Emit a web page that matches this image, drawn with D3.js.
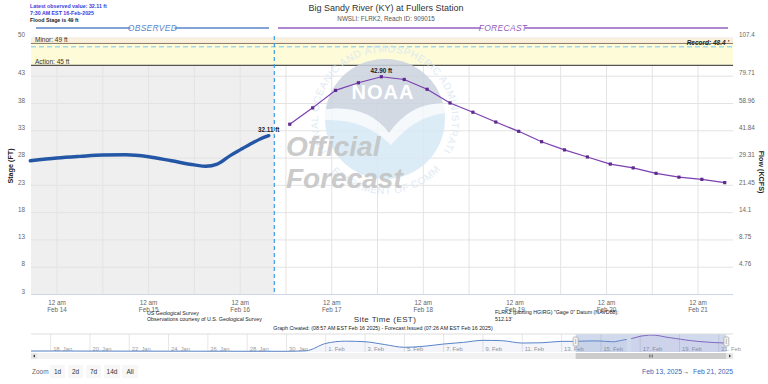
<!DOCTYPE html>
<html>
<head>
<meta charset="utf-8">
<script src="https://cdnjs.cloudflare.com/ajax/libs/d3/7.8.5/d3.min.js"></script>
<style>
  body { margin: 0; background: #fff; }
  svg { display: block; font-family: "Liberation Sans", Arial, sans-serif; }
</style>
</head>
<body>
<svg id="chart" width="768" height="384"></svg>
<script>
// Stage axis ticks and the matching flow labels (rating curve)
const stageTicks = [3, 8, 13, 18, 23, 28, 33, 38, 43, 50];
const flowLabels = ["", "4.76", "8.75", "14.1", "21.45", "29.31", "41.84", "58.96", "79.71", "107.4"];

// Observed stage (ft), EST
const obsTimes = ["2025-02-13 17:00", "2025-02-14 00:00", "2025-02-14 06:00", "2025-02-14 12:00",
  "2025-02-14 18:00", "2025-02-15 00:00", "2025-02-15 06:00", "2025-02-15 12:00", "2025-02-15 15:00",
  "2025-02-15 18:00", "2025-02-15 21:30", "2025-02-16 00:00", "2025-02-16 03:20", "2025-02-16 05:15",
  "2025-02-16 07:30"];
const obsStage = [27.5, 28.0, 28.3, 28.55, 28.6, 28.25, 27.5, 26.75, 26.5, 26.9, 28.5, 29.5, 30.8, 31.5, 32.11];

// Forecast stage (ft), EST
const fcstTimes = ["2025-02-16 13:00", "2025-02-16 19:00", "2025-02-17 01:00", "2025-02-17 07:00",
  "2025-02-17 13:00", "2025-02-17 19:00", "2025-02-18 01:00", "2025-02-18 07:00", "2025-02-18 13:00",
  "2025-02-18 19:00", "2025-02-19 01:00", "2025-02-19 07:00", "2025-02-19 13:00", "2025-02-19 19:00",
  "2025-02-20 01:00", "2025-02-20 07:00", "2025-02-20 13:00", "2025-02-20 19:00", "2025-02-21 01:00",
  "2025-02-21 07:00"];
const fcstStage = [34.2, 37.2, 40.4, 41.8, 42.9, 42.4, 40.6, 38.1, 36.4, 34.6, 32.9, 31.0, 29.5, 28.2,
  26.9, 26.2, 25.2, 24.5, 24.1, 23.5];

// Navigator history (daily stage, ft)
const histTimes = ["2025-01-17 00:00", "2025-01-18 00:00", "2025-01-19 00:00", "2025-01-20 00:00",
  "2025-01-21 00:00", "2025-01-22 00:00", "2025-01-23 00:00", "2025-01-24 00:00", "2025-01-25 00:00",
  "2025-01-26 00:00", "2025-01-27 00:00", "2025-01-28 00:00", "2025-01-29 00:00", "2025-01-30 00:00",
  "2025-01-31 00:00", "2025-02-01 00:00", "2025-02-02 00:00", "2025-02-03 00:00", "2025-02-04 00:00",
  "2025-02-05 00:00", "2025-02-06 00:00", "2025-02-07 00:00", "2025-02-08 00:00", "2025-02-09 00:00",
  "2025-02-10 00:00", "2025-02-11 00:00", "2025-02-12 00:00", "2025-02-13 00:00"];
const histStage = [3.9, 4.0, 3.9, 3.8, 3.7, 3.6, 3.6, 3.5, 3.5, 3.4, 3.4, 3.3, 3.3, 3.2,
  4.5, 22.5, 28.0, 26.6, 19.7, 13.0, 15.5, 21.0, 25.0, 30.0, 29.0, 23.4, 24.1, 27.5];

const navTicks = ["2025-01-18", "2025-01-20", "2025-01-22", "2025-01-24", "2025-01-26", "2025-01-28",
  "2025-01-30", "2025-02-01", "2025-02-03", "2025-02-05", "2025-02-07", "2025-02-09", "2025-02-11",
  "2025-02-13", "2025-02-15", "2025-02-17", "2025-02-19", "2025-02-21"];

const thresholds = { action: 45, minor: 49, record: 48.4 };

const parse = d3.timeParse("%Y-%m-%d %H:%M");
const parseDay = d3.timeParse("%Y-%m-%d");
const obs = obsTimes.map((t, i) => ({ t: parse(t), v: obsStage[i] }));
const fcst = fcstTimes.map((t, i) => ({ t: parse(t), v: fcstStage[i] }));
const hist = histTimes.map((t, i) => ({ t: parse(t), v: histStage[i] }));

const svg = d3.select("#chart");
const defs = svg.append("defs");
const plot = { left: 31, right: 733, top: 38, bottom: 294.5 };
const nowTime = parse("2025-02-16 08:57");

const x = d3.scaleTime()
  .domain([parse("2025-02-13 17:11"), parse("2025-02-21 09:10")])
  .range([plot.left, plot.right]);
const y = d3.scaleLinear().domain([3, 50]).range([plot.bottom, plot.top]);

// ---- header texts ----
svg.append("text").attr("x", 30).attr("y", 8).attr("font-size", 5.3).attr("font-weight", "bold")
  .attr("fill", "#3b3bdc").text("Latest observed value: 32.11 ft");
svg.append("text").attr("x", 30).attr("y", 15).attr("font-size", 5.3).attr("font-weight", "bold")
  .attr("fill", "#3b3bdc").text("7:30 AM EST 16-Feb-2025");
svg.append("text").attr("x", 30).attr("y", 22).attr("font-size", 5.3).attr("font-weight", "bold")
  .attr("fill", "#222").text("Flood Stage is 49 ft");

svg.append("text").attr("x", 386).attr("y", 10.5).attr("text-anchor", "middle")
  .attr("font-size", 9).attr("fill", "#333").text("Big Sandy River (KY) at Fullers Station");
svg.append("text").attr("x", 386).attr("y", 20.5).attr("text-anchor", "middle")
  .attr("font-size", 6.3).attr("fill", "#555").text("NWSLI: FLRK2, Reach ID: 909015");

// observed / forecast banner
function banner(x0, x1, label, color) {
  const mid = (x0 + x1) / 2, half = 22;
  svg.append("line").attr("x1", x0).attr("x2", mid - half).attr("y1", 28).attr("y2", 28)
    .attr("stroke", color).attr("stroke-width", 1.5);
  svg.append("line").attr("x1", mid + half).attr("x2", x1).attr("y1", 28).attr("y2", 28)
    .attr("stroke", color).attr("stroke-width", 1.5);
  svg.append("text").attr("x", mid).attr("y", 31).attr("text-anchor", "middle")
    .attr("font-size", 8.5).attr("font-style", "italic").attr("fill", color)
    .attr("letter-spacing", 0.3).text(label);
}
banner(36, 269, "OBSERVED", "#5b86c8");
banner(278, 728, "FORECAST", "#9460c0");

// ---- plot background ----
const g = svg.append("g");

// observed region shading
g.append("rect").attr("x", plot.left).attr("y", plot.top)
  .attr("width", x(nowTime) - plot.left).attr("height", plot.bottom - plot.top)
  .attr("fill", "#efefef");

// grid lines
const gridTimes = d3.timeHour.every(12).range(x.domain()[0], x.domain()[1]);
g.append("g").selectAll("line").data(gridTimes).join("line")
  .attr("x1", d => x(d)).attr("x2", d => x(d))
  .attr("y1", plot.top).attr("y2", plot.bottom)
  .attr("stroke", "#e3e3e3").attr("stroke-width", 1);
g.append("g").selectAll("line").data(stageTicks).join("line")
  .attr("x1", plot.left).attr("x2", plot.right)
  .attr("y1", d => y(d)).attr("y2", d => y(d))
  .attr("stroke", "#e3e3e3").attr("stroke-width", 1);

// flood category bands
g.append("rect").attr("x", plot.left).attr("width", plot.right - plot.left)
  .attr("y", y(50)).attr("height", y(thresholds.minor) - y(50)).attr("fill", "#fbf0dc");
g.append("rect").attr("x", plot.left).attr("width", plot.right - plot.left)
  .attr("y", y(thresholds.minor)).attr("height", y(thresholds.action) - y(thresholds.minor))
  .attr("fill", "#fdfbd8");
g.append("line").attr("x1", plot.left).attr("x2", plot.right)
  .attr("y1", y(thresholds.minor)).attr("y2", y(thresholds.minor))
  .attr("stroke", "#8a7a60").attr("stroke-width", 1);
g.append("line").attr("x1", plot.left).attr("x2", plot.right)
  .attr("y1", y(thresholds.record)).attr("y2", y(thresholds.record))
  .attr("stroke", "#9fd9ea").attr("stroke-width", 1.6).attr("stroke-dasharray", "5,3");
g.append("line").attr("x1", plot.left).attr("x2", plot.right)
  .attr("y1", y(thresholds.action)).attr("y2", y(thresholds.action))
  .attr("stroke", "#555").attr("stroke-width", 1.2);
g.append("text").attr("x", plot.left + 4).attr("y", y(thresholds.minor) - 1.5)
  .attr("font-size", 6.5).attr("fill", "#333").text("Minor: 49 ft");
g.append("text").attr("x", plot.left + 4).attr("y", y(thresholds.action) - 1.5)
  .attr("font-size", 6.5).attr("fill", "#333").text("Action: 45 ft");
g.append("text").attr("x", plot.right - 4).attr("y", y(thresholds.record) - 2)
  .attr("text-anchor", "end").attr("font-size", 6.5).attr("font-weight", "bold")
  .attr("font-style", "italic").attr("fill", "#222").text("Record: 48.4 '");

// ---- NOAA watermark ----
const logo = g.append("g").attr("opacity", 0.85);
const cx = 385, cy = 119;
defs.append("clipPath").attr("id", "disc")
  .append("circle").attr("cx", cx).attr("cy", cy).attr("r", 60);
logo.append("circle").attr("cx", cx).attr("cy", cy).attr("r", 60).attr("fill", "#d7e9f6");
const upper = logo.append("g").attr("clip-path", "url(#disc)");
upper.append("path")
  .attr("d", `M${cx - 70},${cy - 70} L${cx + 70},${cy - 70} L${cx + 70},${cy - 14}
    Q${cx + 30},${cy - 22} ${cx + 4},${cy + 14} Q${cx - 20},${cy - 18} ${cx - 70},${cy - 8} Z`)
  .attr("fill", "#cbd3df");
upper.append("path")
  .attr("d", `M${cx - 70},${cy - 8} Q${cx - 20},${cy - 18} ${cx + 4},${cy + 14}
    Q${cx + 30},${cy - 22} ${cx + 70},${cy - 14} L${cx + 70},${cy - 6}
    Q${cx + 34},${cy - 8} ${cx + 6},${cy + 26} Q${cx - 24},${cy - 4} ${cx - 70},${cy + 2} Z`)
  .attr("fill", "#f4f8fb");
logo.append("text").attr("x", cx - 2).attr("y", cy - 20).attr("text-anchor", "middle")
  .attr("font-size", 20).attr("font-weight", "bold").attr("fill", "#fff")
  .attr("letter-spacing", 1).text("NOAA");

const rText = 67;
const pt = (a, r) => [cx + r * Math.sin(a), cy - r * Math.cos(a)];
defs.append("path").attr("id", "ringTop")
  .attr("d", `M${pt(-2.1, rText)} A${rText},${rText} 0 1 1 ${pt(2.1, rText)}`);
defs.append("path").attr("id", "ringBot")
  .attr("d", `M${pt(-2.35, rText + 8)} A${rText + 8},${rText + 8} 0 0 0 ${pt(2.35, rText + 8)}`);
logo.append("text").attr("font-size", 10).attr("fill", "#dbe8f3").attr("letter-spacing", 0.6)
  .append("textPath").attr("href", "#ringTop").attr("startOffset", "50%").attr("text-anchor", "middle")
  .text("NATIONAL OCEANIC AND ATMOSPHERIC ADMINISTRATION");
logo.append("text").attr("font-size", 10).attr("fill", "#dbe8f3").attr("letter-spacing", 0.6)
  .append("textPath").attr("href", "#ringBot").attr("startOffset", "50%").attr("text-anchor", "middle")
  .text("U.S. DEPARTMENT OF COMMERCE");

g.append("text").attr("x", 286).attr("y", 156).attr("font-size", 28).attr("font-weight", "bold")
  .attr("font-style", "italic").attr("fill", "#c2c2c2").attr("opacity", 0.85).text("Official");
g.append("text").attr("x", 286).attr("y", 188).attr("font-size", 28).attr("font-weight", "bold")
  .attr("font-style", "italic").attr("fill", "#c2c2c2").attr("opacity", 0.85).text("Forecast");

// now line
g.append("line").attr("x1", x(nowTime)).attr("x2", x(nowTime))
  .attr("y1", plot.top - 2).attr("y2", plot.bottom)
  .attr("stroke", "#3b9be0").attr("stroke-width", 1.2).attr("stroke-dasharray", "4,3");

// x axis line
g.append("line").attr("x1", plot.left).attr("x2", plot.right)
  .attr("y1", plot.bottom).attr("y2", plot.bottom).attr("stroke", "#ccd6eb");

// ---- series ----
const obsLine = d3.line().x(d => x(d.t)).y(d => y(d.v)).curve(d3.curveMonotoneX);
g.append("path").datum(obs).attr("d", obsLine)
  .attr("fill", "none").attr("stroke", "#2456a6").attr("stroke-width", 3.4)
  .attr("stroke-linecap", "round");

const fcstLine = d3.line().x(d => x(d.t)).y(d => y(d.v));
g.append("path").datum(fcst).attr("d", fcstLine)
  .attr("fill", "none").attr("stroke", "#7a3fb0").attr("stroke-width", 1.2);
g.append("g").selectAll("rect").data(fcst).join("rect")
  .attr("x", d => x(d.t) - 1.6).attr("y", d => y(d.v) - 1.6)
  .attr("width", 3.2).attr("height", 3.2).attr("fill", "#5e2a8e");

const lastObs = obs[obs.length - 1];
g.append("text").attr("x", x(lastObs.t)).attr("y", y(lastObs.v) - 3.5).attr("text-anchor", "middle")
  .attr("font-size", 6.3).attr("font-weight", "bold").attr("fill", "#222")
  .text(lastObs.v.toFixed(2) + " ft");
const peak = fcst.reduce((a, b) => (b.v > a.v ? b : a));
g.append("text").attr("x", x(peak.t)).attr("y", y(peak.v) - 4).attr("text-anchor", "middle")
  .attr("font-size", 6.3).attr("font-weight", "bold").attr("fill", "#222")
  .text(peak.v.toFixed(2) + " ft");

// ---- axes labels ----
svg.append("g").selectAll("text").data(stageTicks).join("text")
  .attr("x", 25).attr("y", d => y(d) - 0.8).attr("text-anchor", "end")
  .attr("font-size", 6.3).attr("fill", "#666").text(d => d);
svg.append("g").selectAll("text").data(stageTicks).join("text")
  .attr("x", 739).attr("y", d => y(d) - 0.8)
  .attr("font-size", 6.3).attr("fill", "#666").text((d, i) => flowLabels[i]);

svg.append("text").attr("transform", "translate(13,166) rotate(-90)").attr("text-anchor", "middle")
  .attr("font-size", 7.2).attr("font-weight", "bold").attr("fill", "#222").text("Stage (FT)");
svg.append("text").attr("transform", "translate(759,172) rotate(90)").attr("text-anchor", "middle")
  .attr("font-size", 7.2).attr("font-weight", "bold").attr("fill", "#222").text("Flow (KCFS)");

const dayTicks = d3.timeDay.range(parse("2025-02-14 00:00"), parse("2025-02-21 12:00"));
const xl = svg.append("g").selectAll("g").data(dayTicks).join("g")
  .attr("transform", d => `translate(${x(d)},0)`);
xl.append("text").attr("y", 304.5).attr("text-anchor", "middle").attr("font-size", 6.3)
  .attr("fill", "#666").text("12 am");
xl.append("text").attr("y", 311.5).attr("text-anchor", "middle").attr("font-size", 6.3)
  .attr("fill", "#666").text(d3.timeFormat("%b %-d"));

// ---- footer texts ----
svg.append("text").attr("x", 147).attr("y", 314.5).attr("font-size", 5.3).attr("fill", "#222")
  .text("US Geological Survey");
svg.append("text").attr("x", 147).attr("y", 321).attr("font-size", 5.3).attr("fill", "#222")
  .text("Observations courtesy of U.S. Geological Survey");
svg.append("text").attr("x", 495).attr("y", 314).attr("font-size", 5.3).attr("fill", "#222")
  .text('FLRK2 (plotting HGIRG) "Gage 0" Datum (NAVD88):');
svg.append("text").attr("x", 495).attr("y", 320.5).attr("font-size", 5.3).attr("fill", "#222")
  .text("512.13'");
svg.append("text").attr("x", 385).attr("y", 321.5).attr("text-anchor", "middle").attr("font-size", 8)
  .attr("letter-spacing", 0.4).attr("fill", "#333").text("Site Time (EST)");
svg.append("text").attr("x", 383).attr("y", 329.5).attr("text-anchor", "middle").attr("font-size", 5.3)
  .attr("fill", "#222")
  .text("Graph Created: (08:57 AM EST Feb 16 2025) - Forecast Issued (07:26 AM EST Feb 16 2025)");

// ---- navigator ----
const nav = { top: 334, bottom: 352 };
const nx = d3.scaleTime().domain([parse("2025-01-17 00:00"), parse("2025-02-21 17:20")])
  .range([plot.left, plot.right]);
const ny = d3.scaleLinear().domain([2, 45]).range([351.8, 334.2]);
const ng = svg.append("g");

ng.append("g").selectAll("line").data(navTicks).join("line")
  .attr("x1", d => nx(parseDay(d))).attr("x2", d => nx(parseDay(d)))
  .attr("y1", nav.top).attr("y2", nav.bottom).attr("stroke", "#e6e6e6");
ng.append("g").selectAll("text").data(navTicks).join("text")
  .attr("x", d => nx(parseDay(d)) + 2.5).attr("y", 351).attr("font-size", 5.8).attr("fill", "#999")
  .text(d => d3.timeFormat("%-d. %b")(parseDay(d)));

const navObs = hist.concat(obs);
const navArea = d3.area().x(d => nx(d.t)).y0(nav.bottom).y1(d => ny(d.v)).curve(d3.curveMonotoneX);
const navLine = d3.line().x(d => nx(d.t)).y(d => ny(d.v)).curve(d3.curveMonotoneX);
ng.append("path").datum(navObs).attr("d", navArea).attr("fill", "#335cad").attr("fill-opacity", 0.06);
ng.append("path").datum(fcst).attr("d", navArea).attr("fill", "#7a3fb0").attr("fill-opacity", 0.05);
ng.append("path").datum(navObs).attr("d", navLine).attr("fill", "none")
  .attr("stroke", "#5a84c8").attr("stroke-width", 1);
ng.append("path").datum(fcst).attr("d", navLine).attr("fill", "none")
  .attr("stroke", "#8c5cc0").attr("stroke-width", 1);

// selected range mask
const sel = x.domain();
ng.append("rect").attr("x", nx(sel[0])).attr("y", nav.top)
  .attr("width", nx(sel[1]) - nx(sel[0])).attr("height", nav.bottom - nav.top)
  .attr("fill", "rgba(102,133,194,0.3)");
ng.append("line").attr("x1", plot.left).attr("x2", plot.right).attr("y1", nav.top).attr("y2", nav.top)
  .attr("stroke", "#ddd");
sel.forEach(t => {
  ng.append("rect").attr("x", nx(t) - 2.5).attr("y", nav.top + 3).attr("width", 5).attr("height", 9)
    .attr("rx", 1).attr("fill", "#f2f2f2").attr("stroke", "#999").attr("stroke-width", 0.6);
  ng.append("line").attr("x1", nx(t)).attr("x2", nx(t)).attr("y1", nav.top + 5).attr("y2", nav.top + 10)
    .attr("stroke", "#999").attr("stroke-width", 0.6);
});

// scrollbar
ng.append("rect").attr("x", plot.left).attr("y", 353).attr("width", plot.right - plot.left)
  .attr("height", 6).attr("fill", "#f2f2f2");
ng.append("rect").attr("x", nx(sel[0])).attr("y", 353).attr("width", nx(sel[1]) - nx(sel[0]))
  .attr("height", 6).attr("fill", "#cccccc");
[-1.5, 0, 1.5].forEach(o => {
  const mx = (nx(sel[0]) + nx(sel[1])) / 2 + o;
  ng.append("line").attr("x1", mx).attr("x2", mx).attr("y1", 354.5).attr("y2", 357.5)
    .attr("stroke", "#333").attr("stroke-width", 0.5);
});
ng.append("rect").attr("x", plot.left).attr("y", 353).attr("width", 6).attr("height", 6).attr("fill", "#e6e6e6");
ng.append("rect").attr("x", plot.right - 6).attr("y", 353).attr("width", 6).attr("height", 6).attr("fill", "#e6e6e6");
ng.append("path").attr("d", `M${plot.left + 4},354.5 L${plot.left + 2},356 L${plot.left + 4},357.5 Z`).attr("fill", "#333");
ng.append("path").attr("d", `M${plot.right - 4},354.5 L${plot.right - 2},356 L${plot.right - 4},357.5 Z`).attr("fill", "#333");

// ---- range selector ----
svg.append("text").attr("x", 32).attr("y", 373.5).attr("font-size", 6.5).attr("fill", "#666").text("Zoom");
const buttons = [["1d", 50], ["2d", 68], ["7d", 86], ["14d", 104], ["All", 122]];
buttons.forEach(([label, bx]) => {
  const w = label.length > 2 ? 16 : 15;
  svg.append("rect").attr("x", bx).attr("y", 365).attr("width", w).attr("height", 13)
    .attr("fill", "#f7f7f7");
  svg.append("text").attr("x", bx + w / 2).attr("y", 373.5).attr("text-anchor", "middle")
    .attr("font-size", 6.5).attr("fill", "#333").text(label);
});
svg.append("text").attr("x", 642).attr("y", 373.5).attr("font-size", 6.8).attr("fill", "#3a66b5")
  .text("Feb 13, 2025");
svg.append("text").attr("x", 686).attr("y", 373.5).attr("text-anchor", "middle").attr("font-size", 6.8)
  .attr("fill", "#444").text("→");
svg.append("text").attr("x", 693).attr("y", 373.5).attr("font-size", 6.8).attr("fill", "#3a66b5")
  .text("Feb 21, 2025");
</script>
</body>
</html>
